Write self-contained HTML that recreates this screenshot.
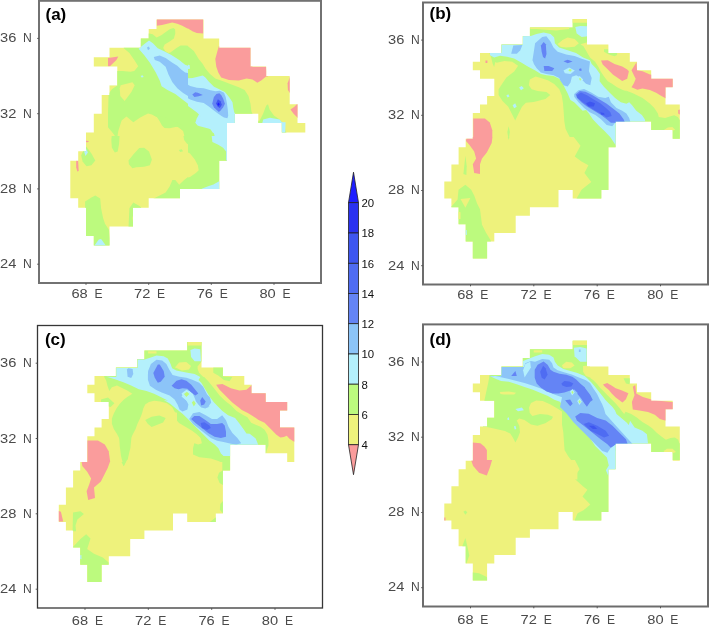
<!DOCTYPE html>
<html><head><meta charset="utf-8"><style>
html,body{margin:0;padding:0;background:#fff;}
svg{display:block;}
.ax{font-family:"Liberation Sans",sans-serif;font-size:12.1px;fill:#4a4a4a;}
.lt{font-family:"Liberation Sans",sans-serif;font-size:17px;font-weight:bold;fill:#000;}
.cb{font-family:"Liberation Sans",sans-serif;font-size:11.4px;fill:#111;}
</style></head><body>
<svg width="709" height="625" viewBox="0 0 709 625">
<rect width="709" height="625" fill="#fff"/>

<defs><clipPath id="ma"><polygon points="156.5,19.6 203.5,19.6 203.5,38.4 219.2,38.4 219.2,47.8 250.5,47.8 250.5,66.6 266.2,66.6 266.2,76.1 289.7,76.1 289.7,104.3 297.5,104.3 297.5,123.1 305.3,123.1 305.3,132.5 281.8,132.5 281.8,123.1 258.3,123.1 258.3,113.7 234.8,113.7 234.8,123.1 227,123.1 227,160.7 219.2,160.7 219.2,188.9 180,188.9 180,198.3 148.7,198.3 148.7,207.7 133,207.7 133,226.6 109.5,226.6 109.5,245.4 93.8,245.4 93.8,236 86,236 86,207.7 78.2,207.7 78.2,198.3 70.3,198.3 70.3,160.7 78.2,160.7 78.2,151.3 86,151.3 86,132.5 93.8,132.5 93.8,113.7 101.7,113.7 101.7,94.9 109.5,94.9 109.5,85.5 117.3,85.5 117.3,66.6 93.8,66.6 93.8,57.2 109.5,57.2 109.5,47.8 140.8,47.8 140.8,38.4 148.7,38.4 148.7,29 156.5,29"/></clipPath></defs>
<polygon points="156.5,19.6 203.5,19.6 203.5,38.4 219.2,38.4 219.2,47.8 250.5,47.8 250.5,66.6 266.2,66.6 266.2,76.1 289.7,76.1 289.7,104.3 297.5,104.3 297.5,123.1 305.3,123.1 305.3,132.5 281.8,132.5 281.8,123.1 258.3,123.1 258.3,113.7 234.8,113.7 234.8,123.1 227,123.1 227,160.7 219.2,160.7 219.2,188.9 180,188.9 180,198.3 148.7,198.3 148.7,207.7 133,207.7 133,226.6 109.5,226.6 109.5,245.4 93.8,245.4 93.8,236 86,236 86,207.7 78.2,207.7 78.2,198.3 70.3,198.3 70.3,160.7 78.2,160.7 78.2,151.3 86,151.3 86,132.5 93.8,132.5 93.8,113.7 101.7,113.7 101.7,94.9 109.5,94.9 109.5,85.5 117.3,85.5 117.3,66.6 93.8,66.6 93.8,57.2 109.5,57.2 109.5,47.8 140.8,47.8 140.8,38.4 148.7,38.4 148.7,29 156.5,29" fill="#eef27c"/>
<g clip-path="url(#ma)">
<clipPath id="q0"><rect x="66" y="14" width="122" height="122"/></clipPath><g clip-path="url(#q0)">
<polygon points="123.8,43.3 123.8,48.2 129.4,53 134.3,59.9 138.2,66.3 134.3,71 130.4,71.8 122.6,71 117.7,71 105,71 105,85.2 117.7,85.2 111.9,89.2 108.6,94 108,113.6 108,127.2 112.8,133.1 117.1,138.9 118.3,131.1 121.6,120.4 126.5,116.5 133.3,122.3 140.2,117.5 148,113.6 151.9,114.5 157.7,117.5 165.6,121.4 171.4,124.3 178.2,127.2 183.1,131.1 185.1,138.9 190.9,138.9 190.9,46.2 185.7,45.4 180.6,45.6 176.5,48 170.4,52.5 168.5,53 165.4,51.3 163.2,48 164.6,44.5 168.9,41.9 173.9,38.6 175.3,33.5 175.1,29.2 173.4,28.1 169.7,29.2 165.4,32.2 161.3,35.3 156.6,37.6 152.7,34.3 149,33.5 140.2,33.5 140.2,43.3" fill="#bcfa7e"/>
</g>
<clipPath id="q1"><rect x="188" y="14" width="122" height="122"/></clipPath><g clip-path="url(#q1)">
<polygon points="184.1,45.2 188,46.2 193.9,51.1 198.7,58.9 202.6,63.8 205.6,68.7 209.5,73.5 215.3,78.4 223.1,81.3 230.9,84.3 238.8,87.2 244.6,90.1 248.5,96 250.5,103.8 251.4,111.6 254.4,117.5 258.3,120.4 259.2,121.4 263.2,113.6 266.1,105.7 268,104.2 269.6,109.6 273.9,115.5 279.7,119.4 283.6,124.3 285.6,131.1 289.5,138.9 184.1,138.9" fill="#bcfa7e"/>
</g>
<clipPath id="q2"><rect x="66" y="136" width="122" height="122"/></clipPath><g clip-path="url(#q2)">
<polygon points="111.9,134 119.7,134 119.1,143.8 117.7,151.6 114.8,152.6 111.9,147.7 111.3,139.9" fill="#bcfa7e"/>
<polygon points="128.5,160.4 133.3,154.5 139.2,148.1 144.1,147.7 149,151.6 151.9,159.4 149.9,165.3 144.1,166.8 136.3,167.2 132.4,168.2 128.9,164.3" fill="#bcfa7e"/>
<polygon points="84.5,147.7 86.5,146.7 91.4,153.6 95.3,160.4 91.4,165.3 86.5,166.3 82.6,161.4 81.2,155.5" fill="#bcfa7e"/>
<polygon points="183.1,134 190.9,134 190.9,145.8 187,143.8 184.1,139.9" fill="#bcfa7e"/>
<polygon points="178.8,150.1 181.6,149.3 183.1,151.2 180.2,152" fill="#bcfa7e"/>
<polygon points="151.9,200.4 153.8,198.5 159.7,195.5 165.6,192.6 169.5,186.8 172.4,179.9 175.3,179.9 179.2,184.8 184.1,179.9 188,177 190.9,177 190.9,202.4" fill="#bcfa7e"/>
<polygon points="85.1,201.4 91.4,197.5 95.3,195.5 100.2,198.5 101.1,208.2 103.1,218 105,223.8 108.9,229.7 111.9,253.1 85.1,253.1" fill="#bcfa7e"/>
<polygon points="128.5,227.7 129.4,208.2 133.3,202.4 138.2,205.3 141.2,207.2 140.2,210.2 134.3,210.6 132.4,218 133.9,227.7" fill="#bcfa7e"/>
</g>
<clipPath id="q3"><rect x="188" y="136" width="122" height="122"/></clipPath><g clip-path="url(#q3)">
<polygon points="186,134 229,134 229,190.7 186,190.7" fill="#bcfa7e"/>
</g>
<clipPath id="q4"><rect x="66" y="14" width="122" height="122"/></clipPath><g clip-path="url(#q4)">
<polygon points="120.7,85.2 132.4,82.3 134.7,85.2 131.4,92.1 124.6,100.9 120.3,96 119.7,88.2" fill="#eef27c"/>
</g>
<clipPath id="q5"><rect x="188" y="136" width="122" height="122"/></clipPath><g clip-path="url(#q5)">
<polygon points="186,151.6 190,153.6 194.8,159.4 197.8,165.3 198.7,170.2 195.8,173.1 190,177 186,178" fill="#eef27c"/>
</g>
<clipPath id="q6"><rect x="66" y="14" width="122" height="122"/></clipPath><g clip-path="url(#q6)">
<polygon points="152.7,114.5 156.9,116.9 159.5,121.1 162,125.4 164.5,127.9 169.6,128.3 175.5,127.1 179.4,126.6 181.5,128.8 182.7,125.4 165.4,117.3" fill="#bcfa7e"/>
</g>
<clipPath id="q7"><rect x="66" y="136" width="122" height="122"/></clipPath><g clip-path="url(#q7)">
<polygon points="152.7,114.5 156.9,116.9 159.5,121.1 162,125.4 164.5,127.9 169.6,128.3 175.5,127.1 179.4,126.6 181.5,128.8 182.7,125.4 165.4,117.3" fill="#bcfa7e"/>
</g>
<clipPath id="q8"><rect x="66" y="14" width="122" height="122"/></clipPath><g clip-path="url(#q8)">
<polygon points="156.8,17.9 190.9,17.9 190.9,29.6 187.4,28.4 182.3,25.7 177.3,23.8 172.2,22.6 167.1,23.8 162,24.9 156.8,25.7" fill="#fa9c9c"/>
<polygon points="108,57.9 118.3,56.6 116.4,59.9 109.9,66.3 108,66.3" fill="#fa9c9c"/>
</g>
<clipPath id="q9"><rect x="188" y="14" width="122" height="122"/></clipPath><g clip-path="url(#q9)">
<polygon points="184.1,17.9 203.2,17.9 203.2,33.5 196.8,33.1 192.9,31.6 188,28.6 184.1,27.7" fill="#fa9c9c"/>
<polygon points="218.8,46.2 252.4,46.2 252.4,66.7 266.1,66.7 268,76.5 266.1,76.5 261.2,80.4 257.3,82.7 252.4,79.4 246.6,78.4 238.8,80.4 229,80 221.2,77.4 218.3,72.6 216.3,66.7 215.3,58.9 216.9,53" fill="#fa9c9c"/>
<polygon points="289.9,76.9 291.5,76.9 291.5,95.6 287.9,90.1 287.6,83.3" fill="#fa9c9c"/>
<polygon points="297.3,103.8 299.3,103.8 299.3,119.4 293.4,113.6 290.5,109.6 294.4,106.7" fill="#fa9c9c"/>
</g>
<clipPath id="q10"><rect x="66" y="136" width="122" height="122"/></clipPath><g clip-path="url(#q10)">
<polygon points="76.2,160.4 78.1,160.4 78.7,171.1 77.3,171.5 76.2,167.2" fill="#fa9c9c"/>
<polygon points="85.5,140.7 89,141.1 87.9,142.2 85.5,141.9" fill="#fa9c9c"/>
</g>
<clipPath id="q11"><rect x="66" y="14" width="122" height="122"/></clipPath><g clip-path="url(#q11)">
<polygon points="138.6,48.7 144.1,44.3 149,40.4 152.9,43.3 157.7,48.2 163.6,51.1 171.4,55 179.2,59.9 185.1,64.8 190.9,66.7 190.9,104.8 188,103.8 183.1,99.9 175.3,94 167.5,90.1 161.6,86.2 159.7,80.4 155.8,72.6 149.9,62.8 144.1,55" fill="#b4f0fc"/>
<polygon points="140.6,76.1 142.5,75.3 143.7,76.9 141.7,77.6" fill="#b4f0fc"/>
</g>
<clipPath id="q12"><rect x="188" y="14" width="122" height="122"/></clipPath><g clip-path="url(#q12)">
<polygon points="184.1,78.4 192.7,78 202.8,75.5 205.4,77.6 208.9,81.7 214,86.8 219.8,89.5 224.9,92.1 229.2,97.2 232.5,102.2 233.3,108.1 234.3,112.4 235.8,114.5 236.8,138.9 215.3,138.9 213.4,131.1 207.5,127.2 203.6,123.3 200.3,120 200.3,115.7 197,112.4 190.9,108.1 185.1,103.8 184.1,102.8" fill="#b4f0fc"/>
<polygon points="184.1,63.8 189.6,65.1 190,68.7 184.1,69.6" fill="#b4f0fc"/>
<polygon points="280.7,122.3 285.6,122.3 285.2,133.1 281.7,133.1" fill="#b4f0fc"/>
<polygon points="263.2,119.4 270,117.8 279.7,119.4 282.7,123.3 262.2,123.3" fill="#b4f0fc"/>
</g>
<clipPath id="q13"><rect x="66" y="136" width="122" height="122"/></clipPath><g clip-path="url(#q13)">
<polygon points="94.3,245.7 98.8,239.5 101.1,239.1 106,245.7" fill="#b4f0fc"/>
<polygon points="84,151.2 86.5,149.3 87.9,152.6 85.5,155.9" fill="#b4f0fc"/>
</g>
<clipPath id="q14"><rect x="188" y="136" width="122" height="122"/></clipPath><g clip-path="url(#q14)">
<polygon points="211.4,134 229,134 229,161.4 226.1,160.4 226.1,151.6 223.1,147.7 218.3,144.8 212.4,141.9" fill="#b4f0fc"/>
<polygon points="201.7,190.7 201.7,188.7 207.5,186.4 213.4,184.4 219.2,181.3 221.2,181.3 221.2,190.7" fill="#b4f0fc"/>
</g>
<clipPath id="q15"><rect x="188" y="14" width="122" height="122"/></clipPath><g clip-path="url(#q15)">
<polygon points="199.2,114 196.7,118.6 195.4,122.8 197.5,125.4 200.9,125.4 200.9,113.5" fill="#b4f0fc"/>
<polygon points="195.6,122.7 198.8,126.1 210.3,129 213.2,133.3 216,131.6 213.2,124.4 203.1,118.6 198.8,115.8" fill="#b4f0fc"/>
</g>
<clipPath id="q16"><rect x="188" y="136" width="122" height="122"/></clipPath><g clip-path="url(#q16)">
<polygon points="195.6,122.7 198.8,126.1 210.3,129 213.2,133.3 216,131.6 213.2,124.4 203.1,118.6 198.8,115.8" fill="#b4f0fc"/>
</g>
<clipPath id="q17"><rect x="66" y="14" width="122" height="122"/></clipPath><g clip-path="url(#q17)">
<polygon points="153.8,56.9 159.7,55.4 165.6,57.9 172.4,62.8 177.3,65.7 181.2,69.6 185.1,72.6 190.9,73.5 190.9,97.9 188,96 183.1,93.1 177.3,88.2 172.4,82.3 168.5,74.5 165.6,66.7 159.7,61.8 154.8,59.9" fill="#8cc4f8"/>
<polygon points="147,47.6 148.8,46.4 149.9,48.7 148,50.3" fill="#8cc4f8"/>
</g>
<clipPath id="q18"><rect x="188" y="14" width="122" height="122"/></clipPath><g clip-path="url(#q18)">
<polygon points="179.2,80.2 185.1,82.7 190.2,86.1 196.9,87.8 203.7,88.2 210.5,90.3 215.5,91.2 219.8,90.7 224,92.8 225.7,97.1 227,103.8 227.8,109.8 228.2,115.7 227.4,118.2 224,117.4 221.5,116.1 217.2,113.1 213.9,110.6 208.8,106.4 203.7,103 196.9,101.7 190.2,99.6 185.1,96.2 179.2,91.6" fill="#8cc4f8"/>
<polygon points="192.3,94.5 195.2,92.2 197.8,92.8 202.8,95 198.6,96.2 194.4,97.1" fill="#6484f5"/>
<polygon points="212.2,103.8 213.9,97.1 216.4,94.1 219.4,93.3 221.5,95.4 223.2,98.8 224.9,103.8 223.2,107.2 220.6,110.6 218.9,111.9 216.4,109.8 213.9,107.2" fill="#6484f5"/>
<polygon points="216,103.4 217.9,99.2 220.5,101.3 221.9,104.7 219.8,108.1 217.7,106.8" fill="#3e56f0"/>
<polygon points="217.2,104.3 218.5,102.6 219.8,104.3 218.5,106" fill="#1e1eff"/>
</g>
</g>
<rect x="39" y="0.8" width="282" height="282.2" fill="none" stroke="#727272" stroke-width="2.0"/>
<line x1="86" y1="283" x2="86" y2="284.8" stroke="#555" stroke-width="1"/>
<text class="ax" x="71.40" y="298.40" textLength="16.3" lengthAdjust="spacingAndGlyphs">68</text>
<text class="ax" x="94.40" y="298.40">E</text>
<line x1="148.7" y1="283" x2="148.7" y2="284.8" stroke="#555" stroke-width="1"/>
<text class="ax" x="134.07" y="298.40" textLength="16.3" lengthAdjust="spacingAndGlyphs">72</text>
<text class="ax" x="157.07" y="298.40">E</text>
<line x1="211.3" y1="283" x2="211.3" y2="284.8" stroke="#555" stroke-width="1"/>
<text class="ax" x="196.73" y="298.40" textLength="16.3" lengthAdjust="spacingAndGlyphs">76</text>
<text class="ax" x="219.73" y="298.40">E</text>
<line x1="274" y1="283" x2="274" y2="284.8" stroke="#555" stroke-width="1"/>
<text class="ax" x="259.40" y="298.40" textLength="16.3" lengthAdjust="spacingAndGlyphs">80</text>
<text class="ax" x="282.40" y="298.40">E</text>
<line x1="37.2" y1="38.4" x2="39" y2="38.4" stroke="#555" stroke-width="1"/>
<text class="ax" x="0.10" y="42.48" textLength="16.3" lengthAdjust="spacingAndGlyphs">36</text>
<text class="ax" x="23.00" y="42.48">N</text>
<line x1="37.2" y1="113.7" x2="39" y2="113.7" stroke="#555" stroke-width="1"/>
<text class="ax" x="0.10" y="117.73" textLength="16.3" lengthAdjust="spacingAndGlyphs">32</text>
<text class="ax" x="23.00" y="117.73">N</text>
<line x1="37.2" y1="188.9" x2="39" y2="188.9" stroke="#555" stroke-width="1"/>
<text class="ax" x="0.10" y="192.98" textLength="16.3" lengthAdjust="spacingAndGlyphs">28</text>
<text class="ax" x="23.00" y="192.98">N</text>
<line x1="37.2" y1="264.2" x2="39" y2="264.2" stroke="#555" stroke-width="1"/>
<text class="ax" x="0.10" y="268.24" textLength="16.3" lengthAdjust="spacingAndGlyphs">24</text>
<text class="ax" x="23.00" y="268.24">N</text>
<text class="lt" x="45.5" y="19.8">(a)</text>
<defs><clipPath id="mb"><polygon points="572.7,18.9 587,18.9 587,44.5 608.4,44.5 608.4,53.1 629.8,53.1 629.8,61.7 637,61.7 637,70.2 651.2,70.2 651.2,78.8 672.7,78.8 672.7,87.3 665.5,87.3 665.5,104.5 679.8,104.5 679.8,138.7 672.7,138.7 672.7,130.1 651.2,130.1 651.2,121.6 615.6,121.6 615.6,147.3 608.4,147.3 608.4,190.1 601.3,190.1 601.3,198.6 572.7,198.6 572.7,190.1 558.5,190.1 558.5,207.2 529.9,207.2 529.9,215.7 515.7,215.7 515.7,232.9 494.3,232.9 494.3,241.4 487.1,241.4 487.1,258.5 472.8,258.5 472.8,241.4 465.7,241.4 465.7,224.3 458.6,224.3 458.6,207.2 451.4,207.2 451.4,198.6 444.3,198.6 444.3,181.5 451.4,181.5 451.4,164.4 458.6,164.4 458.6,147.3 465.7,147.3 465.7,138.7 472.8,138.7 472.8,113 480,113 480,104.5 487.1,104.5 487.1,95.9 494.3,95.9 494.3,78.8 480,78.8 480,70.2 472.8,70.2 472.8,61.7 480,61.7 480,53.1 501.4,53.1 501.4,44.5 522.8,44.5 522.8,36 529.9,36 529.9,27.4 572.7,27.4"/></clipPath></defs>
<polygon points="572.7,18.9 587,18.9 587,44.5 608.4,44.5 608.4,53.1 629.8,53.1 629.8,61.7 637,61.7 637,70.2 651.2,70.2 651.2,78.8 672.7,78.8 672.7,87.3 665.5,87.3 665.5,104.5 679.8,104.5 679.8,138.7 672.7,138.7 672.7,130.1 651.2,130.1 651.2,121.6 615.6,121.6 615.6,147.3 608.4,147.3 608.4,190.1 601.3,190.1 601.3,198.6 572.7,198.6 572.7,190.1 558.5,190.1 558.5,207.2 529.9,207.2 529.9,215.7 515.7,215.7 515.7,232.9 494.3,232.9 494.3,241.4 487.1,241.4 487.1,258.5 472.8,258.5 472.8,241.4 465.7,241.4 465.7,224.3 458.6,224.3 458.6,207.2 451.4,207.2 451.4,198.6 444.3,198.6 444.3,181.5 451.4,181.5 451.4,164.4 458.6,164.4 458.6,147.3 465.7,147.3 465.7,138.7 472.8,138.7 472.8,113 480,113 480,104.5 487.1,104.5 487.1,95.9 494.3,95.9 494.3,78.8 480,78.8 480,70.2 472.8,70.2 472.8,61.7 480,61.7 480,53.1 501.4,53.1 501.4,44.5 522.8,44.5 522.8,36 529.9,36 529.9,27.4 572.7,27.4" fill="#eef27c"/>
<g clip-path="url(#mb)">
<clipPath id="q19"><rect x="440" y="15" width="122" height="122"/></clipPath><g clip-path="url(#q19)">
<polygon points="488.8,52.1 488.8,22.8 564.9,22.8 564.9,106.7 563,103.2 561.8,95.6 559.3,89.2 554.2,84.1 547.8,80.2 539.9,77.7 535.6,76.5 529.8,79.4 528.8,85.3 531.7,89.2 537.6,91.1 546.4,92.1 550.3,95 545.4,98.9 533.7,101.9 525.9,102.8 522,106.7 518.1,114.6 515.2,120.4 512.2,114.6 508.3,106.7 502.5,100.9 498.6,95 498.6,89.2 502.5,83.3 506.4,77.5 514.2,71.6 518.1,65.8 512.2,61.8 504.4,60.9 496.6,62.8 492.7,59.9 489.8,54" fill="#bcfa7e"/>
<polygon points="507.3,132.1 508.7,126.3 509.9,132.1 508.7,139.9" fill="#bcfa7e"/>
</g>
<clipPath id="q20"><rect x="562" y="15" width="122" height="122"/></clipPath><g clip-path="url(#q20)">
<polygon points="558.1,11.1 558.1,139.9 686.9,139.9 686.9,120.4 684,120.7 679.6,119.8 677.8,117.1 674.2,115.3 670.6,116.2 665.1,118 658.8,117.1 657.9,113.5 654.3,108.1 649.8,103.5 642.6,98.1 633.5,93.6 624.5,90 627.2,91.5 622.2,89.8 617.1,87.2 612,83.8 607.8,81.3 604.4,77.1 601,72 598.5,66.9 595.1,61.8 590,57.6 583.5,46.2 580.5,44.3 587.4,42.3 587.4,11.1" fill="#bcfa7e"/>
<polygon points="604,49.2 608.2,49.2 608.2,53 617.1,53 617.1,55.1 614.5,56.3 610.3,55.1 606.9,53.4 604,51.7" fill="#bcfa7e"/>
</g>
<clipPath id="q21"><rect x="440" y="137" width="122" height="122"/></clipPath><g clip-path="url(#q21)">
<polygon points="507.3,135 509.9,135 508.7,139.9" fill="#bcfa7e"/>
<polygon points="463.4,174.1 465.4,155.5 466.7,166.3 466.4,175.1" fill="#bcfa7e"/>
<polygon points="447.8,207.3 451.7,206.3 457.6,199.5 458.5,189.7 465.4,184.8 471.2,189.7 474.2,195.6 477.1,203.4 480,209.2 481,217 482,224.8 485.9,232.6 490.8,240.5 493.7,261.9 447.8,261.9" fill="#bcfa7e"/>
</g>
<clipPath id="q22"><rect x="562" y="137" width="122" height="122"/></clipPath><g clip-path="url(#q22)">
<polygon points="573.7,135 573.7,137 580.5,145.8 574.7,156.5 581.5,161.4 588.4,165.3 584.4,173.1 591.3,181.9 581.5,189.7 576.6,198.5 576.6,201.4 620.6,201.4 620.6,135" fill="#bcfa7e"/>
<polygon points="671.3,135 681.1,135 681.1,139 671.3,139" fill="#bcfa7e"/>
</g>
<clipPath id="q23"><rect x="440" y="15" width="122" height="122"/></clipPath><g clip-path="url(#q23)">
<polygon points="530.2,26.3 569,26.3 569,29.1 556.3,30.5 536.5,29.1 530.2,29.1" fill="#eef27c"/>
<polygon points="557.7,43.9 561.9,40.4 567.6,37.6 574.6,39 578.9,43.2 574.6,46.8 566.2,47.5 560.5,46.8" fill="#eef27c"/>
<polygon points="571.8,17.8 588.7,17.8 588.7,22.8 571.8,22.8" fill="#eef27c"/>
</g>
<clipPath id="q24"><rect x="562" y="15" width="122" height="122"/></clipPath><g clip-path="url(#q24)">
<polygon points="530.2,26.3 569,26.3 569,29.1 556.3,30.5 536.5,29.1 530.2,29.1" fill="#eef27c"/>
<polygon points="557.7,43.9 561.9,40.4 567.6,37.6 574.6,39 578.9,43.2 574.6,46.8 566.2,47.5 560.5,46.8" fill="#eef27c"/>
<polygon points="571.8,17.8 588.7,17.8 588.7,22.8 571.8,22.8" fill="#eef27c"/>
<polygon points="559.2,89.2 561.8,95.6 563,103.3 563.7,112.2 564.3,121.2 565.6,128.9 569.4,136.6 574.6,141.7 578.4,146.8 581,150 581,159.6 527.2,159.6 527.2,89.2" fill="#eef27c"/>
<polygon points="664.2,129.7 667.8,127.5 672.4,127 675.1,129.7 673.3,130.6 664.2,130.6" fill="#eef27c"/>
</g>
<clipPath id="q25"><rect x="440" y="137" width="122" height="122"/></clipPath><g clip-path="url(#q25)">
<polygon points="460.5,199.1 470.3,197.9 465.4,207.7" fill="#eef27c"/>
<polygon points="456.6,211.2 460.5,212.2 460.5,219 456.6,219" fill="#eef27c"/>
</g>
<clipPath id="q26"><rect x="440" y="15" width="122" height="122"/></clipPath><g clip-path="url(#q26)">
<polygon points="490.7,53.9 495.8,55.1 496.9,57.9 495.2,62.4 494.1,66.9 492.6,63.5 491.3,57.9" fill="#bcfa7e"/>
<polygon points="473.2,118.5 484.9,118.5 489.8,122.4 492.3,130.2 492.3,139.9 473.2,139.9" fill="#fa9c9c"/>
<polygon points="485.5,60.5 487.4,60.5 487.4,63 485.5,63" fill="#fa9c9c"/>
</g>
<clipPath id="q27"><rect x="562" y="15" width="122" height="122"/></clipPath><g clip-path="url(#q27)">
<polygon points="601,60.6 607.8,60.2 614.5,64 622.2,66.5 627.2,69.5 628.9,71.2 627.2,78.8 622.2,80.9 617.9,77.9 612.8,74.5 606.9,68.6 602.7,64.4" fill="#fa9c9c"/>
<polygon points="631.5,70.3 636.5,62.3 637,70.3 642.5,71.2 650,74.5 675.5,76.5 675.5,87.7 666.9,87.7 666.9,99 660.6,95.4 656.1,92.7 649.8,90 642.5,88.5 637.4,89.8 631.5,87.2 634,83 635.7,78.8 634,75.4" fill="#fa9c9c"/>
<polygon points="678.2,109.9 680,109.4 680,114.8 678.2,113.5" fill="#fa9c9c"/>
</g>
<clipPath id="q28"><rect x="440" y="137" width="122" height="122"/></clipPath><g clip-path="url(#q28)">
<polygon points="467.3,135 492.7,135 491.7,142.9 486.8,152.6 482,158.5 480,164.3 480,174.1 474.2,173.1 472.8,164.3 476.1,158.5 474.2,151.6 469.3,144.8 466,140.9" fill="#fa9c9c"/>
</g>
<clipPath id="q29"><rect x="440" y="15" width="122" height="122"/></clipPath><g clip-path="url(#q29)">
<polygon points="519.1,87.6 521.6,86.1 523.9,88.2 521,90.2" fill="#b4f0fc"/>
<polygon points="506.4,95.4 508.3,94.3 509.5,96.6 507.5,97.4" fill="#b4f0fc"/>
<polygon points="512.6,105.2 515.2,103.2 516.7,106.7 514.2,108.3" fill="#b4f0fc"/>
</g>
<clipPath id="q30"><rect x="440" y="137" width="122" height="122"/></clipPath><g clip-path="url(#q30)">
<polygon points="465,230.3 466.7,229.9 466.9,235 465,234.6" fill="#b4f0fc"/>
</g>
<polygon points="490,52.8 501.3,52.8 501.3,44.6 522.4,44.6 522.7,36.2 530.9,35.9 536.5,34.1 543.6,32.6 550.6,34.1 554.2,37.6 554.9,43.2 559.1,47.5 567.6,50.3 576,53.1 583.1,57.4 590,60.2 591.7,64 595.9,68.2 600,73.9 599.6,81.2 603.9,86.8 609.5,92.5 615.1,98.1 620.8,102.3 626.4,103.8 629.2,102.3 632.1,105.2 636.3,110.8 641.9,115 644.8,119.3 646.2,126.3 617.9,148.4 610.2,136.9 604.5,131.1 598.7,125.4 593,119.6 589.1,113.8 586.2,110 582.7,110.8 578.5,106.6 574.2,102.3 570.4,99.9 567.7,93.6 564.9,88 562.1,82.4 559.2,78.8 553.6,76 546.5,75.3 540.9,73.9 535.3,70.4 528.2,66.8 521.2,62.6 514.1,58.4 507.1,56.7 500,55.8 494.2,57.4 490,55.2" fill="#b4f0fc"/>
<polygon points="575.3,27 580.3,26 587.3,26.3 588,36.2 581.7,36.9 576.7,33.4" fill="#b4f0fc"/>
<polygon points="532.3,61.6 535.1,43.2 542.2,36.9 546.4,36.2 550.6,41.8 553.5,47.5 557.7,51.7 566.2,54.5 574.6,55.9 581.7,58.8 590,61.6 588.9,71.1 591.7,78.1 590.3,85.2 586,83.8 583.2,80.9 579,76.7 576.2,75.3 571.9,76.7 570.5,82.4 567.7,86.6 563.5,85.2 560.6,80.9 559.2,78.1 553.6,75.3 546.5,73.9 540.9,72.5 536.7,68.2 533.9,64 532.4,59.8" fill="#8cc4f8"/>
<polygon points="511.2,53.8 513.3,45.4 522.4,44.9 520.3,50.3 516.8,53.8" fill="#8cc4f8"/>
<polygon points="563.5,70.4 569.1,67.5 574.8,70.4 570.5,73.9 564.9,73.2" fill="#b4f0fc"/>
<polygon points="568.4,70.4 569.8,68.7 571.9,69.9 570.2,71.8" fill="#bcfa7e"/>
<polygon points="576.9,78.1 579.7,76 583.2,79.5 580.4,82.4" fill="#b4f0fc"/>
<polygon points="579,78.8 580,77.8 581.4,79.5 580.1,80.7" fill="#bcfa7e"/>
<polygon points="540.9,45.6 543.7,42.1 545.8,44.2 546.5,54.1 545.1,58.4 543,56.9 541.6,51.3" fill="#6484f5"/>
<polygon points="543.7,66.1 548.7,66.1 554.3,68.2 552.2,71.1 544.4,71.1" fill="#6484f5"/>
<polygon points="563.5,61.2 567.7,59.8 572.6,61.5 567.7,63.3" fill="#6484f5"/>
<polygon points="579,68.9 581.1,68.2 581.8,70.4 579.7,71.1" fill="#6484f5"/>
<polygon points="574.2,93.9 578.5,90.3 584.1,88.9 591.2,92.5 598.2,96.7 605.3,98.1 608.8,96.7 610.9,102.3 616.5,108 622.2,110.8 626.4,113.6 629.2,117.9 630.6,122.8 615.1,122.8 612.3,126.3 606.7,124.9 601,119.3 595.4,115 589.7,112.2 584.1,108 578.5,102.3 574.2,96.7" fill="#8cc4f8"/>
<polygon points="575.6,94.6 579.9,91 585.5,91.8 592.6,95.3 599.6,99.5 606.7,103.8 612.3,108 619.4,113.6 623.6,119.3 625,122.8 610.9,122.8 606.7,119.3 601,115 594,110.8 586.9,106.6 581.3,102.3 577.1,98.1" fill="#6484f5"/>
<polygon points="577.1,95 581,92.4 587.4,95.6 593.8,99.4 600.2,103.3 606.6,108.4 610.4,112.2 611.7,116.1 606.6,117.4 600.2,113.5 593.8,109.7 587.4,105.8 581,100.7 577.1,97.5" fill="#4f6cf2"/>
<polygon points="586.1,103.3 589.9,101.4 595,103.3 593.8,106.5 588.6,106.5" fill="#3e56f0"/>
<polygon points="600.2,112.2 604,112.9 604.6,114.8 601.4,114.8" fill="#3e56f0"/>
</g>
<rect x="423" y="2.5" width="285" height="282.0" fill="none" stroke="#6c6c6c" stroke-width="2.0"/>
<line x1="470.5" y1="284.5" x2="470.5" y2="286.3" stroke="#555" stroke-width="1"/>
<text class="ax" x="457.20" y="299.40" textLength="16.3" lengthAdjust="spacingAndGlyphs">68</text>
<text class="ax" x="480.20" y="299.40">E</text>
<line x1="533.8" y1="284.5" x2="533.8" y2="286.3" stroke="#555" stroke-width="1"/>
<text class="ax" x="520.53" y="299.40" textLength="16.3" lengthAdjust="spacingAndGlyphs">72</text>
<text class="ax" x="543.53" y="299.40">E</text>
<line x1="597.2" y1="284.5" x2="597.2" y2="286.3" stroke="#555" stroke-width="1"/>
<text class="ax" x="583.87" y="299.40" textLength="16.3" lengthAdjust="spacingAndGlyphs">76</text>
<text class="ax" x="606.87" y="299.40">E</text>
<line x1="660.5" y1="284.5" x2="660.5" y2="286.3" stroke="#555" stroke-width="1"/>
<text class="ax" x="647.20" y="299.40" textLength="16.3" lengthAdjust="spacingAndGlyphs">80</text>
<text class="ax" x="670.20" y="299.40">E</text>
<line x1="421.2" y1="40.1" x2="423" y2="40.1" stroke="#555" stroke-width="1"/>
<text class="ax" x="388.10" y="43.95" textLength="16.3" lengthAdjust="spacingAndGlyphs">36</text>
<text class="ax" x="411.10" y="43.95">N</text>
<line x1="421.2" y1="115.3" x2="423" y2="115.3" stroke="#555" stroke-width="1"/>
<text class="ax" x="388.10" y="119.15" textLength="16.3" lengthAdjust="spacingAndGlyphs">32</text>
<text class="ax" x="411.10" y="119.15">N</text>
<line x1="421.2" y1="190.5" x2="423" y2="190.5" stroke="#555" stroke-width="1"/>
<text class="ax" x="388.10" y="194.35" textLength="16.3" lengthAdjust="spacingAndGlyphs">28</text>
<text class="ax" x="411.10" y="194.35">N</text>
<line x1="421.2" y1="265.7" x2="423" y2="265.7" stroke="#555" stroke-width="1"/>
<text class="ax" x="388.10" y="269.55" textLength="16.3" lengthAdjust="spacingAndGlyphs">24</text>
<text class="ax" x="411.10" y="269.55">N</text>
<text class="lt" x="429.5" y="19.3">(b)</text>
<defs><clipPath id="mc"><polygon points="187.2,341.9 201.5,341.9 201.5,367.6 222.9,367.6 222.9,376.1 244.3,376.1 244.3,384.7 251.5,384.7 251.5,393.3 265.7,393.3 265.7,401.9 287.2,401.9 287.2,410.4 280,410.4 280,427.6 294.3,427.6 294.3,461.9 287.2,461.9 287.2,453.3 265.7,453.3 265.7,444.8 230.1,444.8 230.1,470.5 222.9,470.5 222.9,513.4 215.8,513.4 215.8,521.9 187.2,521.9 187.2,513.4 173,513.4 173,530.5 144.4,530.5 144.4,539.1 130.2,539.1 130.2,556.2 108.8,556.2 108.8,564.8 101.6,564.8 101.6,581.9 87.3,581.9 87.3,564.8 80.2,564.8 80.2,547.6 73.1,547.6 73.1,530.5 65.9,530.5 65.9,521.9 58.8,521.9 58.8,504.8 65.9,504.8 65.9,487.6 73.1,487.6 73.1,470.5 80.2,470.5 80.2,461.9 87.3,461.9 87.3,436.2 94.5,436.2 94.5,427.6 101.6,427.6 101.6,419 108.8,419 108.8,401.9 94.5,401.9 94.5,393.3 87.3,393.3 87.3,384.7 94.5,384.7 94.5,376.1 115.9,376.1 115.9,367.6 137.3,367.6 137.3,359 144.4,359 144.4,350.4 187.2,350.4"/></clipPath></defs>
<polygon points="187.2,341.9 201.5,341.9 201.5,367.6 222.9,367.6 222.9,376.1 244.3,376.1 244.3,384.7 251.5,384.7 251.5,393.3 265.7,393.3 265.7,401.9 287.2,401.9 287.2,410.4 280,410.4 280,427.6 294.3,427.6 294.3,461.9 287.2,461.9 287.2,453.3 265.7,453.3 265.7,444.8 230.1,444.8 230.1,470.5 222.9,470.5 222.9,513.4 215.8,513.4 215.8,521.9 187.2,521.9 187.2,513.4 173,513.4 173,530.5 144.4,530.5 144.4,539.1 130.2,539.1 130.2,556.2 108.8,556.2 108.8,564.8 101.6,564.8 101.6,581.9 87.3,581.9 87.3,564.8 80.2,564.8 80.2,547.6 73.1,547.6 73.1,530.5 65.9,530.5 65.9,521.9 58.8,521.9 58.8,504.8 65.9,504.8 65.9,487.6 73.1,487.6 73.1,470.5 80.2,470.5 80.2,461.9 87.3,461.9 87.3,436.2 94.5,436.2 94.5,427.6 101.6,427.6 101.6,419 108.8,419 108.8,401.9 94.5,401.9 94.5,393.3 87.3,393.3 87.3,384.7 94.5,384.7 94.5,376.1 115.9,376.1 115.9,367.6 137.3,367.6 137.3,359 144.4,359 144.4,350.4 187.2,350.4" fill="#eef27c"/>
<g clip-path="url(#mc)">
<clipPath id="q31"><rect x="55" y="340" width="122" height="122"/></clipPath><g clip-path="url(#q31)">
<polygon points="104.2,377 104.2,331.6 181,331.6 181,413.5 175,412.2 172.1,407.1 166.9,403.3 160.5,401.4 154.1,400.7 149,402 145.2,404.6 143.3,408.4 142,413.5 140,418.6 137.5,423.8 135.6,428.9 133,434 130.4,439.1 129.2,444.2 127.9,459.6 123.4,459.6 120.8,444.2 119.6,439.1 117,434 113.8,428.9 111.9,423.8 111.9,418.6 113.8,413.5 116.4,408.4 119.6,403.9 123.4,400.1 127.2,396.9 132.4,393.7 127.2,390.5 122.1,387.9 117,385.4 111.9,387.3 109.3,391.1 107.4,385.4 106.1,380.2" fill="#bcfa7e"/>
<polygon points="101,399.4 108,397.5 114.4,403.3 110.6,407.1 105.5,405.8 101,407.1" fill="#bcfa7e"/>
<polygon points="145.2,419.9 151.6,416.7 159.3,415.4 165.7,418 163.1,422.5 156.7,425 151.6,427 147.7,423.8" fill="#bcfa7e"/>
</g>
<clipPath id="q32"><rect x="177" y="340" width="122" height="122"/></clipPath><g clip-path="url(#q32)">
<polygon points="173.1,336.1 202.4,336.1 201.7,361.2 197.4,366.8 198.5,370 202.7,375.6 208.3,381.3 214,388.3 219.6,395.4 225.3,401 230.9,405.3 236.5,410.9 243.6,415.2 247.4,417.3 251.2,422.8 255.7,424.8 260.6,426.8 264.6,429.7 267.5,434.7 268.5,440.6 268.5,445.5 267,449.5 266,453.4 266,479.1 173.1,464.9" fill="#bcfa7e"/>
<polygon points="213.3,367.2 223.1,367.2 223.1,376.4 232.3,377.1 229.5,381.3 223.9,379.9 218.2,375.6 213.3,372.8" fill="#bcfa7e"/>
<polygon points="160,415.2 165.1,416.5 166.3,420.3 163.8,424.1 160,424.1" fill="#bcfa7e"/>
</g>
<clipPath id="q33"><rect x="55" y="462" width="122" height="122"/></clipPath><g clip-path="url(#q33)">
<polygon points="120.4,460 126.2,460 123.7,466.3" fill="#bcfa7e"/>
<polygon points="73,512.4 80.4,511.2 83.9,513.9 77.4,519.6 75.5,525.4 76.1,531.3 72.6,531.3" fill="#bcfa7e"/>
<polygon points="70.6,547.9 73,546.9 80.4,539.1 86.2,534.2 90.5,538.5 87.2,548.9 94,553.7 102.8,557.6 108.7,562.5 109.7,586.9 70.6,586.9" fill="#bcfa7e"/>
</g>
<clipPath id="q34"><rect x="177" y="462" width="122" height="122"/></clipPath><g clip-path="url(#q34)">
<polygon points="222.3,460 233.6,460 233.6,487.4 223.8,485.4 219.6,483.1 217.4,477.6 219,472.7 222.3,470.8" fill="#bcfa7e"/>
<polygon points="223.8,500.1 220.3,504 219.9,509.8 223.8,514.3" fill="#bcfa7e"/>
<polygon points="209.2,522.5 216,517.2 217,517.2 217,523.5" fill="#bcfa7e"/>
</g>
<clipPath id="q35"><rect x="177" y="340" width="122" height="122"/></clipPath><g clip-path="url(#q35)">
<polygon points="160,403.8 165.1,406.4 170.2,411.4 174,417.8 179,422.9 185.4,426.7 191.7,430.5 196.8,434.3 200.6,438.1 201.9,443.2 198.1,444.5 194.3,443.2 193,448.3 193,454.6 199.4,457.2 210.8,458.4 218.4,461 223.5,463.5 220.9,470 220.9,488.9 121.9,488.9 121.9,403.8" fill="#eef27c"/>
</g>
<clipPath id="q36"><rect x="55" y="340" width="122" height="122"/></clipPath><g clip-path="url(#q36)">
<polygon points="148.1,351.3 156.5,351.3 156.5,353.4 148.1,353.4" fill="#eef27c"/>
<polygon points="187.6,341.4 201.7,341.4 201.7,345.6 187.6,345.6" fill="#eef27c"/>
<polygon points="174.9,367.5 179.1,362.6 186.2,361.9 191.1,366.1 189,369.6 181.9,370.4" fill="#eef27c"/>
<polygon points="197.4,368.2 210,368.2 210,378.1 203.1,376.7 198.9,372.5" fill="#eef27c"/>
</g>
<clipPath id="q37"><rect x="177" y="340" width="122" height="122"/></clipPath><g clip-path="url(#q37)">
<polygon points="148.1,351.3 156.5,351.3 156.5,353.4 148.1,353.4" fill="#eef27c"/>
<polygon points="187.6,341.4 201.7,341.4 201.7,345.6 187.6,345.6" fill="#eef27c"/>
<polygon points="174.9,367.5 179.1,362.6 186.2,361.9 191.1,366.1 189,369.6 181.9,370.4" fill="#eef27c"/>
<polygon points="197.4,368.2 210,368.2 210,378.1 203.1,376.7 198.9,372.5" fill="#eef27c"/>
</g>
<clipPath id="q38"><rect x="55" y="340" width="122" height="122"/></clipPath><g clip-path="url(#q38)">
<polygon points="119.1,434.6 131.7,434.6 130.4,448 127.7,458.8 123.7,466.2 121,456.1 119.7,445.4" fill="#bcfa7e"/>
</g>
<clipPath id="q39"><rect x="55" y="462" width="122" height="122"/></clipPath><g clip-path="url(#q39)">
<polygon points="119.1,434.6 131.7,434.6 130.4,448 127.7,458.8 123.7,466.2 121,456.1 119.7,445.4" fill="#bcfa7e"/>
</g>
<clipPath id="q40"><rect x="55" y="340" width="122" height="122"/></clipPath><g clip-path="url(#q40)">
<polygon points="87.2,440.5 97.9,440.5 104.8,444.4 108.7,451.3 110.6,464.9 87.2,464.9" fill="#fa9c9c"/>
</g>
<clipPath id="q41"><rect x="177" y="340" width="122" height="122"/></clipPath><g clip-path="url(#q41)">
<polygon points="216.1,384.8 222.4,384.1 230.9,388.3 239.4,390.5 246.4,389.8 251.4,385.5 251.4,382.7 297.2,382.7 299.1,405.1 299.1,442.6 293.7,441.6 289.2,438.6 286.8,435.7 283.8,437.1 280.4,437.6 276.4,434.7 272.5,430.7 268.5,426.8 264.6,422.8 258.6,419.9 252.7,415.9 247.8,413 241.8,410 239.4,408.1 232.3,402.5 225.3,395.4 219.6,389.8" fill="#fa9c9c"/>
</g>
<clipPath id="q42"><rect x="55" y="462" width="122" height="122"/></clipPath><g clip-path="url(#q42)">
<polygon points="81.4,460 110.6,460 107.7,467.9 103.8,475.7 100.9,481.5 94,487.4 95,498.1 88.2,500.1 86.6,491.3 89.2,484.4 91.1,478.6 87.2,471.8 82.3,465.9" fill="#fa9c9c"/>
<polygon points="57.9,510.8 60.9,511.8 63.2,521.5 57.9,521.5" fill="#fa9c9c"/>
<polygon points="79.6,555.3 81.4,554.9 81.5,559.2 79.6,558.8" fill="#b4f0fc"/>
</g>
<polygon points="106.1,376.7 116.3,377 116.3,368 137.5,368 137.5,359.5 144.6,359.5 150.9,357.6 156.5,355.5 163.6,356.2 167.8,358.4 170.6,364 172.1,368.2 176.3,370.4 186.2,372.5 194.6,373.9 200.3,377 198.5,379.9 201.3,382.7 205.5,389.8 209.7,396.8 214,402.5 218.2,406.7 222.4,410.9 228.1,415.2 235.1,418 239.4,423.6 243.6,429.3 246.4,433.5 249.7,433.7 255.7,438.6 258.1,444.5 258.6,451.4 236.2,457.2 229.8,455.9 223.5,455.9 220.9,453.4 218.4,448.3 214.6,444.5 209.5,440.7 204.4,435.6 199.4,430.5 194.3,425.4 189.2,420.3 182.8,414 176.5,408.9 170.2,403.8 163.8,400 168.2,400.7 161.8,397.5 154.1,393.7 146.5,391.1 138.8,389.2 131.1,385.4 123.4,382.2 115.7,379.6 107.4,377" fill="#b4f0fc"/>
<polygon points="190.4,349.9 194.6,348.5 200.3,349.2 201,361.2 194.6,361.2 191.1,356.9" fill="#b4f0fc"/>
<polygon points="126.9,369.6 128.3,368.2 132.6,368.9 133.3,373.9 131.2,378.1 127.6,376.7" fill="#8cc4f8"/>
<polygon points="148.1,371.1 150.9,364 156.5,359.8 162.2,360.5 166.4,364 169.2,369.6 172.6,374.9 179.5,376.8 186.4,377.8 192.3,379.8 199.2,382.8 203.2,386.7 205.2,390.7 207.1,394.6 210,397.6 211.2,402.5 208.3,406.7 210,406.5 205.2,408.4 201.2,407.5 198.3,404.5 195.3,400.5 192.3,397.6 187.4,394.6 183.4,394.6 181.5,396.6 186.4,400.5 188.4,404.5 187.4,409.4 182.5,411.4 179.5,409.4 177.5,404.5 174.6,399.6 169.6,395.6 161.7,392.6 155.8,389.7 149.9,385.7 147.9,379.8 147.9,374.9" fill="#8cc4f8"/>
<polygon points="181.5,393.6 186.4,389.7 192.3,392.6 195.3,399.6 196.3,406.5 191.3,407.5 188.4,402.5 183.4,397.6" fill="#b4f0fc"/>
<polygon points="183.9,394.1 186.9,391.7 189.4,394.1 186.4,397.1" fill="#bcfa7e"/>
<polygon points="191.8,402.5 193.8,400.5 195.8,403.5 193.8,406.5" fill="#bcfa7e"/>
<polygon points="189.2,419.1 193,413.3 199.4,412.1 205.7,415.2 212,419.1 217.1,419.1 222.2,415.2 226,420.3 228.5,426.7 232.4,433 237.4,438.1 241.2,443.2 236.2,444.5 231.1,443.8 223.5,441.9 217.1,440.7 210.8,438.1 204.4,433 198.1,427.9 193,424.1" fill="#8cc4f8"/>
<polygon points="153.3,372.9 157.8,364.5 159.7,364.5 163.7,370.9 164.7,376.8 160.7,381.8 157.8,382.8 154.8,377.8" fill="#6484f5"/>
<polygon points="171.6,385.7 176.5,380.8 181.5,379.3 186.4,380.8 191.3,384.7 195.3,389.7 198.3,393.6 195.3,395.6 191.3,392.6 187.4,388.7 182.5,388.2 178.5,389.2 174.6,388.2" fill="#6484f5"/>
<polygon points="200.2,400.5 202.2,397.1 205.7,401.5 204.2,404.5 201.2,405.5" fill="#6484f5"/>
<polygon points="191.1,419.1 194.3,415.9 199.4,415.9 205.7,420.3 210.8,424.1 217.1,424.1 222.2,422.9 224.7,425.4 226,431.8 226,436.8 220.9,438.1 214.6,436.8 208.2,433 201.9,427.9 195.5,422.9" fill="#6484f5"/>
<polygon points="200.6,422.9 204.4,422.2 209.5,425.4 210.8,427.9 207,429.9 201.9,427.9" fill="#4f6cf2"/>
</g>
<rect x="37.5" y="325.5" width="285.0" height="282.5" fill="none" stroke="#363636" stroke-width="1.3"/>
<line x1="85" y1="608" x2="85" y2="609.8" stroke="#555" stroke-width="1"/>
<text class="ax" x="71.80" y="625.30" textLength="16.3" lengthAdjust="spacingAndGlyphs">68</text>
<text class="ax" x="94.90" y="625.30">E</text>
<line x1="148.3" y1="608" x2="148.3" y2="609.8" stroke="#555" stroke-width="1"/>
<text class="ax" x="135.13" y="625.30" textLength="16.3" lengthAdjust="spacingAndGlyphs">72</text>
<text class="ax" x="158.23" y="625.30">E</text>
<line x1="211.7" y1="608" x2="211.7" y2="609.8" stroke="#555" stroke-width="1"/>
<text class="ax" x="198.47" y="625.30" textLength="16.3" lengthAdjust="spacingAndGlyphs">76</text>
<text class="ax" x="221.57" y="625.30">E</text>
<line x1="275" y1="608" x2="275" y2="609.8" stroke="#555" stroke-width="1"/>
<text class="ax" x="261.80" y="625.30" textLength="16.3" lengthAdjust="spacingAndGlyphs">80</text>
<text class="ax" x="284.90" y="625.30">E</text>
<line x1="35.7" y1="363.2" x2="37.5" y2="363.2" stroke="#555" stroke-width="1"/>
<text class="ax" x="0.10" y="367.22" textLength="16.3" lengthAdjust="spacingAndGlyphs">36</text>
<text class="ax" x="23.00" y="367.22">N</text>
<line x1="35.7" y1="438.5" x2="37.5" y2="438.5" stroke="#555" stroke-width="1"/>
<text class="ax" x="0.10" y="442.55" textLength="16.3" lengthAdjust="spacingAndGlyphs">32</text>
<text class="ax" x="23.00" y="442.55">N</text>
<line x1="35.7" y1="513.8" x2="37.5" y2="513.8" stroke="#555" stroke-width="1"/>
<text class="ax" x="0.10" y="517.88" textLength="16.3" lengthAdjust="spacingAndGlyphs">28</text>
<text class="ax" x="23.00" y="517.88">N</text>
<line x1="35.7" y1="589.2" x2="37.5" y2="589.2" stroke="#555" stroke-width="1"/>
<text class="ax" x="0.10" y="593.22" textLength="16.3" lengthAdjust="spacingAndGlyphs">24</text>
<text class="ax" x="23.00" y="593.22">N</text>
<text class="lt" x="44.9" y="344.5">(c)</text>
<defs><clipPath id="md"><polygon points="572.7,340.8 587,340.8 587,366.5 608.4,366.5 608.4,375 629.8,375 629.8,383.6 637,383.6 637,392.2 651.2,392.2 651.2,400.7 672.7,400.7 672.7,409.3 665.5,409.3 665.5,426.4 679.8,426.4 679.8,460.7 672.7,460.7 672.7,452.1 651.2,452.1 651.2,443.5 615.6,443.5 615.6,469.2 608.4,469.2 608.4,512 601.3,512 601.3,520.6 572.7,520.6 572.7,512 558.5,512 558.5,529.2 529.9,529.2 529.9,537.7 515.7,537.7 515.7,554.9 494.3,554.9 494.3,563.4 487.1,563.4 487.1,580.5 472.8,580.5 472.8,563.4 465.7,563.4 465.7,546.3 458.6,546.3 458.6,529.2 451.4,529.2 451.4,520.6 444.3,520.6 444.3,503.5 451.4,503.5 451.4,486.3 458.6,486.3 458.6,469.2 465.7,469.2 465.7,460.7 472.8,460.7 472.8,435 480,435 480,426.4 487.1,426.4 487.1,417.8 494.3,417.8 494.3,400.7 480,400.7 480,392.2 472.8,392.2 472.8,383.6 480,383.6 480,375 501.4,375 501.4,366.5 522.8,366.5 522.8,357.9 529.9,357.9 529.9,349.3 572.7,349.3"/></clipPath></defs>
<polygon points="572.7,340.8 587,340.8 587,366.5 608.4,366.5 608.4,375 629.8,375 629.8,383.6 637,383.6 637,392.2 651.2,392.2 651.2,400.7 672.7,400.7 672.7,409.3 665.5,409.3 665.5,426.4 679.8,426.4 679.8,460.7 672.7,460.7 672.7,452.1 651.2,452.1 651.2,443.5 615.6,443.5 615.6,469.2 608.4,469.2 608.4,512 601.3,512 601.3,520.6 572.7,520.6 572.7,512 558.5,512 558.5,529.2 529.9,529.2 529.9,537.7 515.7,537.7 515.7,554.9 494.3,554.9 494.3,563.4 487.1,563.4 487.1,580.5 472.8,580.5 472.8,563.4 465.7,563.4 465.7,546.3 458.6,546.3 458.6,529.2 451.4,529.2 451.4,520.6 444.3,520.6 444.3,503.5 451.4,503.5 451.4,486.3 458.6,486.3 458.6,469.2 465.7,469.2 465.7,460.7 472.8,460.7 472.8,435 480,435 480,426.4 487.1,426.4 487.1,417.8 494.3,417.8 494.3,400.7 480,400.7 480,392.2 472.8,392.2 472.8,383.6 480,383.6 480,375 501.4,375 501.4,366.5 522.8,366.5 522.8,357.9 529.9,357.9 529.9,349.3 572.7,349.3" fill="#eef27c"/>
<g clip-path="url(#md)">
<clipPath id="q43"><rect x="440" y="338" width="122" height="122"/></clipPath><g clip-path="url(#q43)">
<polygon points="489.5,375.8 489.5,331.1 573.8,331.1 573.8,411.5 562,411.5 558.2,408.9 550.5,404.4 542.7,401.1 536.2,400.5 531,403.1 529,407.6 529.7,412.8 532.3,416 540.1,414.1 547.9,414.7 553,416.7 551.7,419.3 545.3,423.2 537.5,425.8 531,424.5 524.5,419.9 519.3,418.6 516.7,420.6 519.3,425.8 520,432.2 518,437.4 515.4,442.6 512.8,437.4 510.2,433.5 505,430.9 496,429 486.9,427.1 483,427.1 483,401.1 484.3,401.1 486.2,392 488.2,383" fill="#bcfa7e"/>
</g>
<clipPath id="q44"><rect x="562" y="338" width="122" height="122"/></clipPath><g clip-path="url(#q44)">
<polygon points="558.1,334.1 587.4,334.1 587.3,366.1 590.3,378 593.7,380.5 597.1,383.9 600.5,388.2 603.9,391.6 607.2,394.9 611.5,399.2 615.7,403.4 619.1,407.6 622.5,411.9 624.2,414 625.6,411.8 631.2,414 636.8,417.4 642.4,421.9 648,425.2 652.5,428.6 657,433.1 661.4,436.4 665.9,439.8 670.4,438.1 674.9,437.6 678.2,439.8 679.4,443.2 698.4,443.2 698.4,473.4 558.1,474.6" fill="#bcfa7e"/>
<polygon points="623.5,378.3 631.1,378.3 629.4,384.2 626,383.4" fill="#bcfa7e"/>
</g>
<clipPath id="q45"><rect x="440" y="460" width="122" height="122"/></clipPath><g clip-path="url(#q45)">
<polygon points="463.4,511.7 465.4,510.4 467.3,512.3 465.4,514.7" fill="#bcfa7e"/>
<polygon points="462.4,545.9 465.4,538.1 467.3,545.9 469.3,555.6 466.4,563.5 464.4,563.5" fill="#bcfa7e"/>
<polygon points="471.2,572.2 479,573.2 486.8,577.1 488.8,584.9 471.2,584.9" fill="#bcfa7e"/>
</g>
<clipPath id="q46"><rect x="562" y="460" width="122" height="122"/></clipPath><g clip-path="url(#q46)">
<polygon points="564.9,438 565.9,449.8 573.7,457.6 579.6,469.3 573.7,478.1 583.5,486.8 587.4,489.8 582.5,496.6 590.3,504.4 583.5,510.3 577.6,513.2 574.7,520 574.7,527.8 620.6,527.8 620.6,438" fill="#bcfa7e"/>
</g>
<clipPath id="q47"><rect x="440" y="338" width="122" height="122"/></clipPath><g clip-path="url(#q47)">
<polygon points="499.8,392 508.9,391.4 516.1,392.7 514.1,394.6 503.7,394.6 500.5,394" fill="#eef27c"/>
<polygon points="533.7,350.2 542.2,350.2 542.2,352.6 533.7,352.6" fill="#eef27c"/>
<polygon points="561.9,365.4 566.2,361.8 571.8,362.5 574.6,365.4 570.4,368.2 563.3,368.2" fill="#eef27c"/>
<polygon points="583.1,366.1 590,365.4 590,377.4 585.9,375.9 583.1,371.7" fill="#eef27c"/>
<polygon points="572.5,339.2 587.3,339.2 587.3,344.9 572.5,344.9" fill="#eef27c"/>
</g>
<clipPath id="q48"><rect x="562" y="338" width="122" height="122"/></clipPath><g clip-path="url(#q48)">
<polygon points="533.7,350.2 542.2,350.2 542.2,352.6 533.7,352.6" fill="#eef27c"/>
<polygon points="561.9,365.4 566.2,361.8 571.8,362.5 574.6,365.4 570.4,368.2 563.3,368.2" fill="#eef27c"/>
<polygon points="583.1,366.1 590,365.4 590,377.4 585.9,375.9 583.1,371.7" fill="#eef27c"/>
<polygon points="572.5,339.2 587.3,339.2 587.3,344.9 572.5,344.9" fill="#eef27c"/>
<polygon points="556.9,410.5 560.7,416.9 562,424.6 563.3,432.2 563.9,441.2 564.6,450.2 568.4,456.6 573.5,463 577.4,470 577.4,479.6 530,479.6 530,410.5" fill="#eef27c"/>
</g>
<clipPath id="q49"><rect x="562" y="460" width="122" height="122"/></clipPath><g clip-path="url(#q49)">
<polygon points="556.9,410.5 560.7,416.9 562,424.6 563.3,432.2 563.9,441.2 564.6,450.2 568.4,456.6 573.5,463 577.4,470 577.4,479.6 530,479.6 530,410.5" fill="#eef27c"/>
</g>
<clipPath id="q50"><rect x="562" y="338" width="122" height="122"/></clipPath><g clip-path="url(#q50)">
<polygon points="663.7,451 667,448.8 672.6,448.8 676,452.1 672.6,453.2 664.8,453.2" fill="#eef27c"/>
</g>
<clipPath id="q51"><rect x="440" y="338" width="122" height="122"/></clipPath><g clip-path="url(#q51)">
<polygon points="472.6,442.6 480.4,443.3 484.3,446.5 486.9,450 486.9,460.8 472.6,460.8" fill="#fa9c9c"/>
</g>
<clipPath id="q52"><rect x="562" y="338" width="122" height="122"/></clipPath><g clip-path="url(#q52)">
<polygon points="603,384.4 607.2,383.1 611.5,385.6 615.7,388.2 620.8,389.9 628.4,393.2 625.9,399.2 622.5,402.6 619.1,400 615.7,397.5 611.5,393.2 608.9,389.9 604.7,386.5" fill="#fa9c9c"/>
<polygon points="632.8,386.8 635.3,385.1 636.2,393.5 642.9,396.9 651.4,399.5 661.6,401.1 671.7,402 678.5,402 678.5,420.6 664.9,420.6 659.9,418.9 654.8,414.7 648,412.1 639.5,410.4 632.8,409.6 631.9,402 634.5,395.2" fill="#fa9c9c"/>
</g>
<clipPath id="q53"><rect x="440" y="460" width="122" height="122"/></clipPath><g clip-path="url(#q53)">
<polygon points="470.3,458 492.7,458 489.8,467.8 486.8,475.6 479,472.7 473.2,465.9" fill="#fa9c9c"/>
<polygon points="442.9,517.6 445.5,517.6 445.5,520.9 442.9,520.9" fill="#fa9c9c"/>
</g>
<clipPath id="q54"><rect x="440" y="338" width="122" height="122"/></clipPath><g clip-path="url(#q54)">
<polygon points="515.4,408.9 521.9,407.6 523.9,410.2 518,411.2" fill="#b4f0fc"/>
<polygon points="507.4,418 508.9,417.3 509.2,419.9 507.6,419.9" fill="#b4f0fc"/>
<polygon points="513.9,426.4 515.4,425.8 516.3,429 514.8,429.6" fill="#b4f0fc"/>
</g>
<polygon points="490.8,376.5 490,375.9 501.3,375.9 501.3,367.2 523.1,367.2 523.1,361.1 528.1,359 535.1,356.2 542.2,354.1 549.2,354.8 553.5,357.6 554.9,361.8 557.7,365.4 563.3,368.9 570.4,371 577.4,373.1 584.5,375.9 586.9,378 591.2,382.2 595.4,387.3 599.6,392.4 602.2,395.8 605.5,400 608.9,403.4 612.3,406.8 614.9,410.2 616.5,414 626.6,422.4 628.8,425 630.1,420.8 634.6,427.5 642.4,430.8 646.9,434.2 648,443.2 649.1,453.2 620.6,451.7 612.8,479 607.9,475.1 605.9,470.3 608.8,465.4 606.9,457.6 601,451.7 595.2,445.9 591.3,440 592.2,437.5 585.4,430.7 576.9,424 570.2,415.5 565.1,408.8 560,402 562,402.4 554.3,399.8 547.9,395.9 540.1,392.7 532.3,389.4 524.5,386.9 516.7,384.3 508.9,381.7 501.1,381 496,379.1" fill="#b4f0fc"/>
<polygon points="573.9,347.7 580.3,347 586.6,348.4 586.6,361.8 580.3,361.8 574.6,356.2" fill="#b4f0fc"/>
<polygon points="578.9,349.5 580.6,349.5 580.6,351.9 578.9,351.9" fill="#8cc4f8"/>
<polygon points="488.6,376.2 501.3,376.2 501.3,366.9 523.9,366.9 525.3,363.2 530.9,361.1 535.1,361.8 542.2,359 549.2,359.7 552.1,363.2 553.5,367.5 557.7,370.3 564.8,372.4 571.8,374.5 578.9,377.4 585.9,380.2 590,383 593.7,389 597.1,394.1 599.6,399.2 602.2,404.3 603.9,408.5 605.5,414 615.3,425 632.8,444.3 632.8,451 615.9,451 615.9,444.3 610.8,447.7 607.4,452.7 602.3,451 597.2,446 590.5,439.2 582,430.7 573.5,422.3 566.8,413.8 560,407.1 562,397.2 554.3,394.6 547.9,391.4 540.1,388.2 532.3,385.6 524.5,383 516.7,381 508.9,379.1 499.8,377.1 492.1,375.8" fill="#8cc4f8"/>
<polygon points="523.1,370.3 525.3,363.9 530.2,361.8 530.9,367.5 527.4,373.1 524.6,377.4" fill="#b4f0fc"/>
<polygon points="534.7,369.8 537.7,364.8 543.6,361.4 547.6,364.8 550.5,369.8 553.5,371.7 559.4,373.7 566.3,374.7 572.3,376.7 576.2,379.6 580.2,383.6 585,387.5 585.2,388.2 590.3,394.9 592.8,400 590.3,401.7 586.9,406.8 584.4,403.4 581,398.3 576.8,393.2 578.2,393.5 574.2,389.5 570.3,390.5 564.4,392.5 558.4,393.5 552.5,393.5 546.6,391.5 540.7,387.5 536.7,383.6 534.7,377.7" fill="#6484f5"/>
<polygon points="575.2,416.4 580.3,413 588.8,413.8 597.2,418.1 605.7,420.6 612.5,425.7 619.2,432.4 626,439.2 627.7,444.3 615.9,444.3 610.8,447.7 607.4,444.3 600.6,439.2 592.2,432.4 583.7,425.7 576.9,420.6" fill="#6484f5"/>
<polygon points="511.2,375.9 515.4,371 516.8,375.9" fill="#6484f5"/>
<polygon points="565.1,400.3 570.2,399.5 572.7,403.7 570.2,406.2" fill="#6484f5"/>
<polygon points="540.2,371.7 543.1,365.8 545.6,368.3 547.6,374.7 544.6,379.6 541.7,377.7" fill="#4f6cf2"/>
<polygon points="561.4,383.6 564.4,381.1 569.3,381.6 573.3,383.6 571.3,386.6 566.3,387.1 562.4,385.6" fill="#4f6cf2"/>
<polygon points="583.7,424 588.8,422.3 597.2,425.7 605.7,430.7 609.1,435.8 604,437.5 597.2,434.1 590.5,430.7" fill="#4f6cf2"/>
<polygon points="588.8,425.7 593.9,425.7 597.2,429 593,429" fill="#3e56f0"/>
<polygon points="570,391.6 572.5,389 574.7,392.4 572.1,395.4" fill="#b4f0fc"/>
<polygon points="571.3,392 572.5,390.7 573.6,392.6 572.4,393.9" fill="#bcfa7e"/>
<polygon points="577.2,400.9 579.7,398.3 581.8,401.7 579.3,405.1" fill="#b4f0fc"/>
<polygon points="578.5,401.3 579.7,399.9 580.8,401.9 579.5,403.4" fill="#bcfa7e"/>
</g>
<rect x="423" y="324.4" width="285" height="282.1" fill="none" stroke="#6c6c6c" stroke-width="2.0"/>
<line x1="470.5" y1="606.5" x2="470.5" y2="608.3" stroke="#555" stroke-width="1"/>
<text class="ax" x="457.30" y="624.10" textLength="16.3" lengthAdjust="spacingAndGlyphs">68</text>
<text class="ax" x="480.30" y="624.10">E</text>
<line x1="533.8" y1="606.5" x2="533.8" y2="608.3" stroke="#555" stroke-width="1"/>
<text class="ax" x="520.63" y="624.10" textLength="16.3" lengthAdjust="spacingAndGlyphs">72</text>
<text class="ax" x="543.63" y="624.10">E</text>
<line x1="597.2" y1="606.5" x2="597.2" y2="608.3" stroke="#555" stroke-width="1"/>
<text class="ax" x="583.97" y="624.10" textLength="16.3" lengthAdjust="spacingAndGlyphs">76</text>
<text class="ax" x="606.97" y="624.10">E</text>
<line x1="660.5" y1="606.5" x2="660.5" y2="608.3" stroke="#555" stroke-width="1"/>
<text class="ax" x="647.30" y="624.10" textLength="16.3" lengthAdjust="spacingAndGlyphs">80</text>
<text class="ax" x="670.30" y="624.10">E</text>
<line x1="421.2" y1="362" x2="423" y2="362" stroke="#555" stroke-width="1"/>
<text class="ax" x="388.10" y="365.56" textLength="16.3" lengthAdjust="spacingAndGlyphs">36</text>
<text class="ax" x="411.10" y="365.56">N</text>
<line x1="421.2" y1="437.2" x2="423" y2="437.2" stroke="#555" stroke-width="1"/>
<text class="ax" x="388.10" y="440.79" textLength="16.3" lengthAdjust="spacingAndGlyphs">32</text>
<text class="ax" x="411.10" y="440.79">N</text>
<line x1="421.2" y1="512.5" x2="423" y2="512.5" stroke="#555" stroke-width="1"/>
<text class="ax" x="388.10" y="516.02" textLength="16.3" lengthAdjust="spacingAndGlyphs">28</text>
<text class="ax" x="411.10" y="516.02">N</text>
<line x1="421.2" y1="587.7" x2="423" y2="587.7" stroke="#555" stroke-width="1"/>
<text class="ax" x="388.10" y="591.24" textLength="16.3" lengthAdjust="spacingAndGlyphs">24</text>
<text class="ax" x="411.10" y="591.24">N</text>
<text class="lt" x="429.5" y="345.4">(d)</text>
<polygon points="348.5,202.7 353.5,172.2 358.5,202.7" fill="#1e1eff" stroke="#222" stroke-width="0.8"/>
<rect x="348.5" y="202.7" width="10.0" height="30.3" fill="#2a32f0" stroke="#222" stroke-width="0.8"/>
<rect x="348.5" y="233.0" width="10.0" height="30.3" fill="#3e56f0" stroke="#222" stroke-width="0.8"/>
<rect x="348.5" y="263.3" width="10.0" height="30.2" fill="#4f6cf2" stroke="#222" stroke-width="0.8"/>
<rect x="348.5" y="293.5" width="10.0" height="30.2" fill="#6484f5" stroke="#222" stroke-width="0.8"/>
<rect x="348.5" y="323.7" width="10.0" height="30.3" fill="#8cc4f8" stroke="#222" stroke-width="0.8"/>
<rect x="348.5" y="354.0" width="10.0" height="30.2" fill="#b4f0fc" stroke="#222" stroke-width="0.8"/>
<rect x="348.5" y="384.2" width="10.0" height="30.3" fill="#bcfa7e" stroke="#222" stroke-width="0.8"/>
<rect x="348.5" y="414.5" width="10.0" height="30.2" fill="#eef27c" stroke="#222" stroke-width="0.8"/>
<polygon points="348.5,444.7 353.5,474.7 358.5,444.7" fill="#fa9c9c" stroke="#222" stroke-width="0.8"/>
<text class="cb" x="361.5" y="207">20</text>
<text class="cb" x="361.5" y="237.3">18</text>
<text class="cb" x="361.5" y="267.6">16</text>
<text class="cb" x="361.5" y="297.8">14</text>
<text class="cb" x="361.5" y="328">12</text>
<text class="cb" x="361.5" y="358.3">10</text>
<text class="cb" x="361.5" y="388.5">8</text>
<text class="cb" x="361.5" y="418.8">6</text>
<text class="cb" x="361.5" y="449">4</text>
</svg></body></html>
